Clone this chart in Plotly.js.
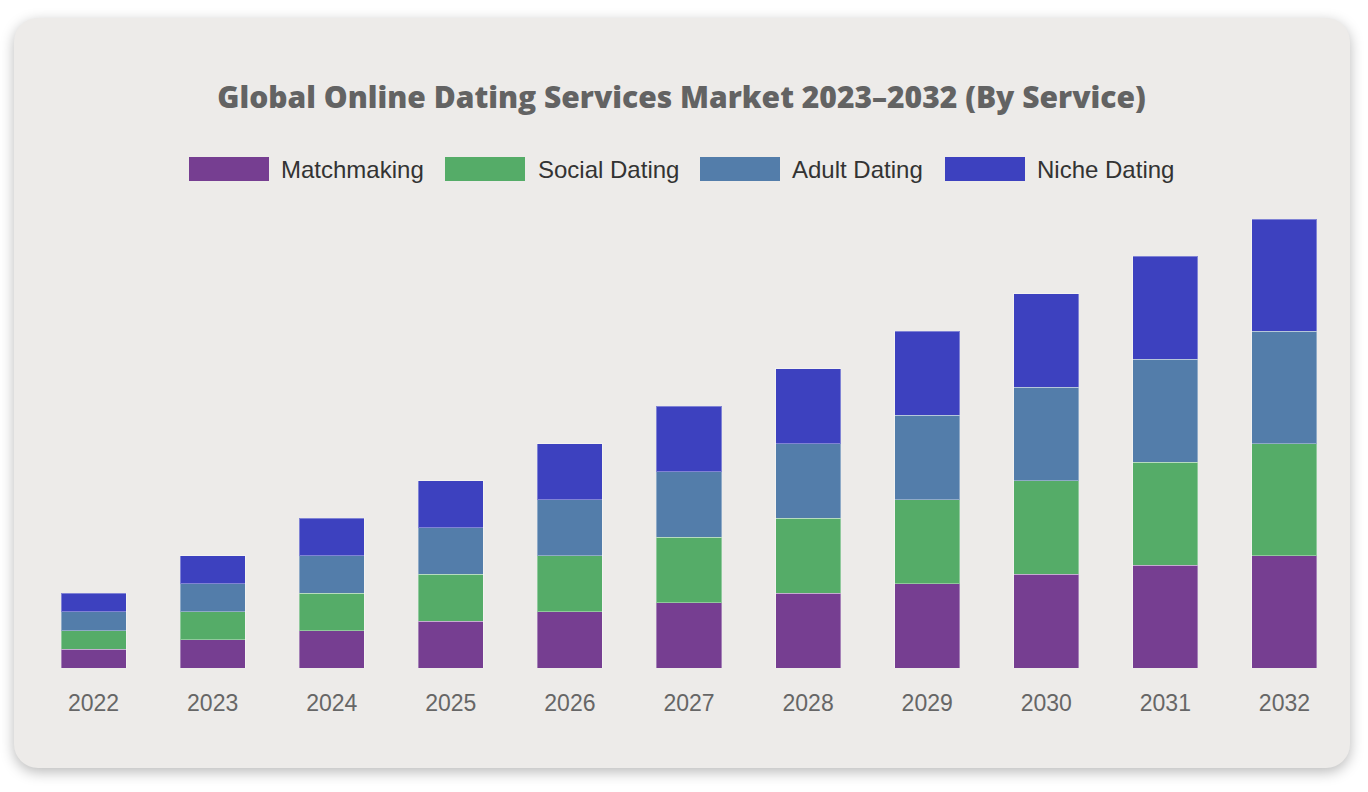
<!DOCTYPE html>
<html>
<head>
<meta charset="utf-8">
<script src="https://cdn.plot.ly/plotly-3.0.1.min.js"></script>
<style>
  html,body{margin:0;padding:0;background:#ffffff;width:1368px;height:792px;overflow:hidden;}
  #card{position:absolute;left:14px;top:18px;width:1336px;height:750px;border-radius:24px;background:#EDEBE9;box-shadow:0 4px 14px rgba(0,0,0,0.28);}
  #chart{position:absolute;left:0;top:0;width:1368px;height:792px;}
</style>
</head>
<body>
<div id="card"></div>
<div id="chart"></div>
<script>
const years = ['2022','2023','2024','2025','2026','2027','2028','2029','2030','2031','2032'];
const matchmaking = [2, 3, 4, 5, 6, 7, 8, 9, 10, 11, 12];
const socialDating = [2, 3, 4, 5, 6, 7, 8, 9, 10, 11, 12];
const adultDating = [2, 3, 4, 5, 6, 7, 8, 9, 10, 11, 12];
const nicheDating = [2, 3, 4, 5, 6, 7, 8, 9, 10, 11, 12];
const seriesNames = ['Matchmaking','Social Dating','Adult Dating','Niche Dating'];
const seriesColors = ['#763E91','#55AC68','#537DAA','#3D41BF'];
const seriesData = [matchmaking, socialDating, adultDating, nicheDating];

const W = 1368, H = 792;
const M = {l:34, r:24, t:219, b:124};
const pw = W - M.l - M.r, ph = H - M.t - M.b;
const px = x => (x - M.l) / pw;
const py = y => (H - M.b - y) / ph;

const traces = seriesNames.map((n,i) => ({
  type:'bar', name:n, x:years, y:seriesData[i],
  marker:{color:seriesColors[i], line:{color:'rgba(255,255,255,0.35)', width:1}},
  hoverinfo:'x+y+name'
}));

const legendItems = [
  {sx:189, tx:279},
  {sx:445, tx:536},
  {sx:700, tx:790},
  {sx:945, tx:1035}
];
const shapes = [], annotations = [];
legendItems.forEach((it,i) => {
  shapes.push({type:'rect', xref:'paper', yref:'paper', x0:px(it.sx), x1:px(it.sx+80), y0:py(181), y1:py(157),
    fillcolor:seriesColors[i], line:{width:0}});
  annotations.push({xref:'paper', yref:'paper', x:px(it.tx), y:py(169), xanchor:'left', yanchor:'middle',
    text:seriesNames[i], showarrow:false, font:{family:'Liberation Sans, Arial, sans-serif', size:24, color:'#333333'}});
});

const layout = {
  width:W, height:H,
  margin:M,
  paper_bgcolor:'rgba(0,0,0,0)', plot_bgcolor:'rgba(0,0,0,0)',
  barmode:'stack', bargap:0.454,
  showlegend:false,
  title:{text:'Global Online Dating Services Market 2023\u20132032 (By Service)',
    x:681.5/W, xref:'container', xanchor:'center', y:1-97/H, yanchor:'middle',
    font:{family:'Open Sans, sans-serif', size:30, weight:800, color:'#636363'}},
  xaxis:{type:'category', showgrid:false, zeroline:false, showline:false, ticks:'',
    tickfont:{family:'Liberation Sans, Arial, sans-serif', size:23, color:'#666666'}, ticklabelstandoff:19},
  yaxis:{range:[0,48], visible:false, showgrid:false, zeroline:false},
  shapes:shapes, annotations:annotations
};
Plotly.newPlot('chart', traces, layout, {displayModeBar:false, staticPlot:false});
</script>
</body>
</html>
